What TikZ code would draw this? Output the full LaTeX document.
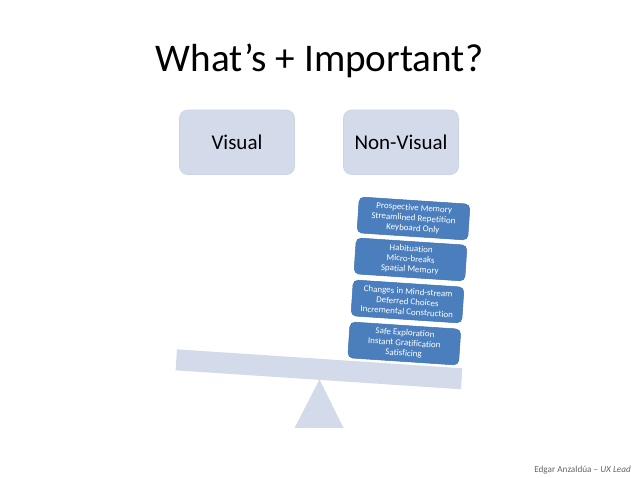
\documentclass[tikz,border=0pt]{standalone}
\usepackage{fontspec}
\setmainfont{Carlito}[Ligatures=NoCommon]
\definecolor{lightbox}{HTML}{D3DAE9}
\definecolor{lightedge}{HTML}{CBD4E6}
\definecolor{bluebox}{HTML}{4A7EBD}
\definecolor{bluedge}{HTML}{3F72AE}
\begin{document}
\begin{tikzpicture}[x=1pt,y=-1pt,
  topbox/.style={draw=lightedge,line width=0.6pt,fill=lightbox,rounded corners=8pt,minimum width=115pt,minimum height=64.5pt,inner sep=0pt,font=\fontsize{21}{25}\selectfont,text=black},
  stackbox/.style={draw=bluedge,line width=0.5pt,fill=bluebox,rounded corners=5pt,minimum width=111pt,minimum height=36pt,inner sep=0pt,align=center,rotate=-3.8,text=white,font=\fontsize{9}{10.2}\selectfont},
  beam/.style={fill=lightbox,minimum width=286pt,minimum height=21pt,inner sep=0pt,rotate=-3.8},
  pivot/.style={fill=lightbox}]
\useasboundingbox (0,0) rectangle (638,478);
\fill[white] (0,0) rectangle (638,478);
\node[inner sep=0pt,font=\fontsize{39.2}{46}\selectfont,text=black] (title) at (319.5,61) {What’s + Important?};
\node[topbox] (visual) at (237,142.3) {Visual};
\node[topbox] (nonvisual) at (401,142.3) {Non-Visual};
\node[beam] (plank) at (319,369.3) {};
\fill[pivot] (319.5,379.5) -- (343.5,428) -- (294.5,428) -- cycle;
\node[stackbox] (s1) at (413.5,218.5) {Prospective Memory\\Streamlined Repetition\\Keyboard Only};
\node[stackbox] (s2) at (410.5,259.5) {Habituation\\Micro-breaks\\Spatial Memory};
\node[stackbox] (s3) at (407.5,301.5) {Changes in Mind-stream\\Deferred Choices\\Incremental Construction};
\node[stackbox] (s4) at (404.3,343.5) {Safe Exploration\\Instant Gratification\\Satisficing};
\node[anchor=east,inner sep=0pt,text=black!60,font=\fontsize{9.2}{11}\selectfont] (credit) at (631,470.5) {Edgar Anzaldúa – \textit{UX Lead}};
\end{tikzpicture}
\end{document}
